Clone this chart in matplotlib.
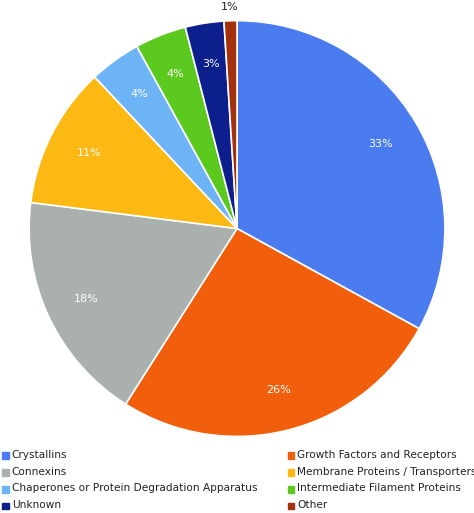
import matplotlib
matplotlib.use("Agg")
import matplotlib.pyplot as plt
from matplotlib.patches import Rectangle
import numpy as np

labels = ["Crystallins", "Growth Factors and Receptors", "Connexins",
          "Membrane Proteins / Transporters", "Chaperones or Protein Degradation Apparatus",
          "Intermediate Filament Proteins", "Unknown", "Other"]
values = [33, 26, 18, 11, 4, 4, 3, 1]
colors = ["#4a7cf0", "#f25f0c", "#aab0ae", "#fdb913", "#6cb4f5", "#5cc91e", "#0c1f8c", "#a3300f"]

fig = plt.figure(figsize=(4.74, 5.13), dpi=100)
ax = fig.add_axes([0.057, 0.145, 0.886, 0.819])
wedges, texts = ax.pie(values, colors=colors, startangle=90, counterclock=False,
                       wedgeprops=dict(edgecolor="white", linewidth=1.2))
ax.set_xlim(-1.01, 1.01)
ax.set_ylim(-1.01, 1.01)
ax.set_aspect("equal")

for w, v in zip(wedges, values):
    ang = np.deg2rad((w.theta1 + w.theta2) / 2)
    if v < 2:
        r, c = 1.065, "#222222"
    else:
        r, c = 0.8, "white"
    ax.text(r * np.cos(ang), r * np.sin(ang), f"{v}%", ha="center", va="center",
            color=c, fontsize=8, clip_on=False)

# legend: two columns, row-major
for i, (lab, col) in enumerate(zip(labels, colors)):
    row, colx = i // 2, i % 2
    x = 0.005 if colx == 0 else 0.607
    y = 1 - (455 + row * 16.7) / 513
    fig.patches.append(Rectangle((x, y - 0.008), 0.013, 0.013, transform=fig.transFigure,
                                 color=col, figure=fig))
    fig.text(x + 0.02, y, lab, fontsize=7.6, va="center", ha="left", color="#222222")

fig.savefig("out.png", dpi=100)
